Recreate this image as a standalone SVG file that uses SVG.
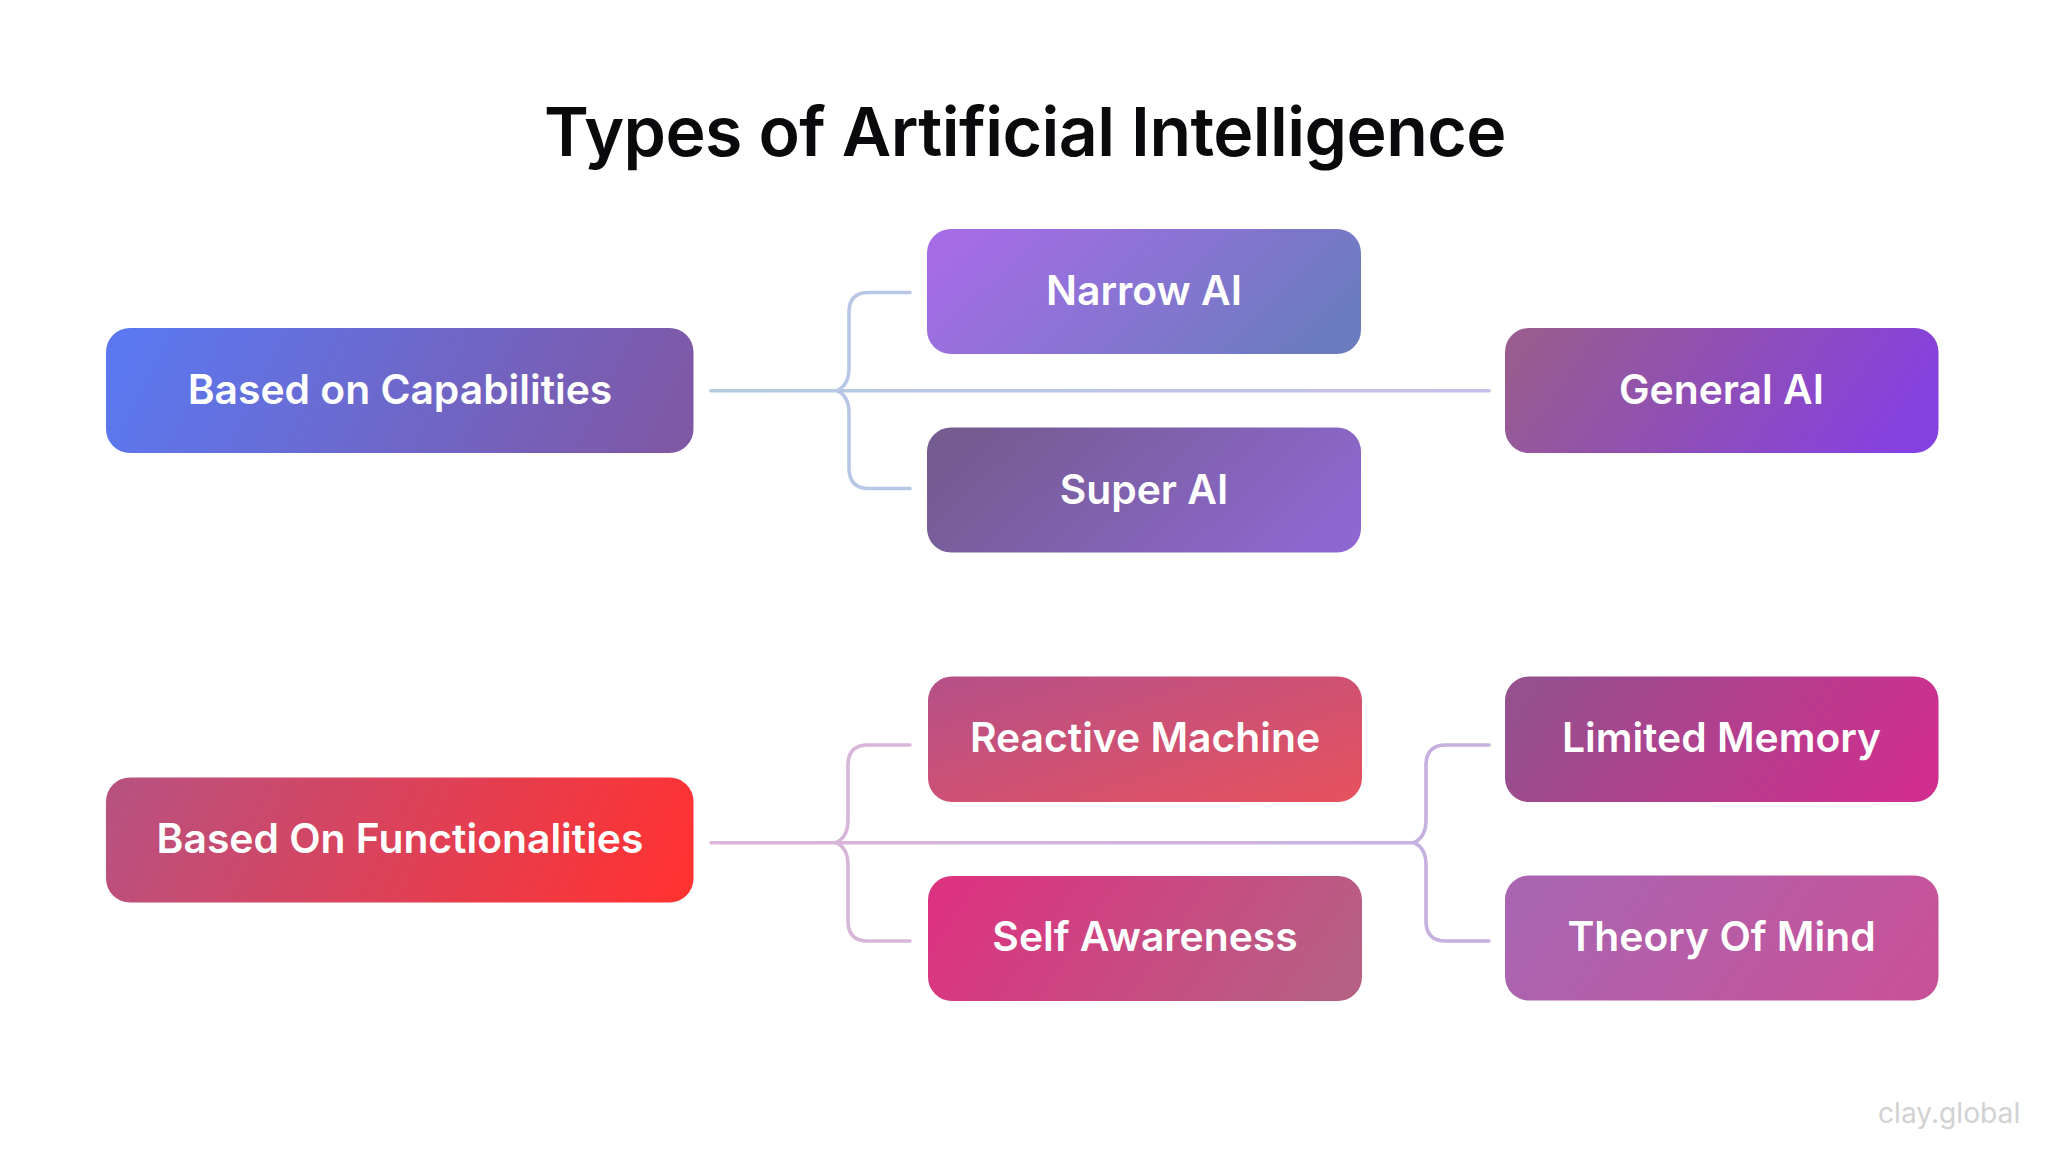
<svg xmlns="http://www.w3.org/2000/svg" width="2048" height="1151" viewBox="0 0 2048 1151">
<style>
.lbl{font-family:Inter,"Liberation Sans",sans-serif;font-weight:600;font-size:40.8px;fill:#fff;text-anchor:middle}
.c{fill:none;stroke-width:3.6;stroke-linecap:round;stroke-linejoin:round}
</style>
<defs>
<linearGradient id="g1" x1="0" y1="0.45" x2="1" y2="0.55"><stop offset="0" stop-color="#5b78f0"/><stop offset="1" stop-color="#7f58a6"/></linearGradient>
<linearGradient id="g2" x1="0" y1="0.35" x2="1" y2="0.65"><stop offset="0" stop-color="#a56ce6"/><stop offset="1" stop-color="#6a7cbe"/></linearGradient>
<linearGradient id="g3" x1="0" y1="0.35" x2="1" y2="0.65"><stop offset="0" stop-color="#745b90"/><stop offset="1" stop-color="#8e68d0"/></linearGradient>
<linearGradient id="g4" x1="0" y1="0.4" x2="1" y2="0.6"><stop offset="0" stop-color="#985c90"/><stop offset="1" stop-color="#8540e2"/></linearGradient>
<linearGradient id="g5" x1="0" y1="0.45" x2="1" y2="0.55"><stop offset="0" stop-color="#b9517f"/><stop offset="1" stop-color="#ff3232"/></linearGradient>
<linearGradient id="g6" x1="0" y1="0.05" x2="1" y2="0.95"><stop offset="0" stop-color="#b65088"/><stop offset="1" stop-color="#e6525e"/></linearGradient>
<linearGradient id="g7" x1="0" y1="0.4" x2="1" y2="0.6"><stop offset="0" stop-color="#dc3380"/><stop offset="1" stop-color="#b66084"/></linearGradient>
<linearGradient id="g8" x1="0" y1="0.4" x2="1" y2="0.6"><stop offset="0" stop-color="#95508e"/><stop offset="1" stop-color="#d02e8e"/></linearGradient>
<linearGradient id="g9" x1="0" y1="0.4" x2="1" y2="0.6"><stop offset="0" stop-color="#a965b2"/><stop offset="1" stop-color="#c85298"/></linearGradient>
<linearGradient id="ln1" gradientUnits="userSpaceOnUse" x1="710" y1="0" x2="1489" y2="0"><stop offset="0" stop-color="#b1cbe0"/><stop offset="1" stop-color="#c7bdea"/></linearGradient>
<linearGradient id="ln2" gradientUnits="userSpaceOnUse" x1="710" y1="0" x2="1416" y2="0"><stop offset="0" stop-color="#dcb5d8"/><stop offset="1" stop-color="#c9b2e0"/></linearGradient>
</defs>
<rect width="2048" height="1151" fill="#fff"/>
<text id="title" x="1025" y="156" font-family="Inter,'Liberation Sans',sans-serif" font-weight="600" font-size="68" letter-spacing="-0.56" fill="#0a0a0c" text-anchor="middle">Types of Artificial Intelligence</text>
<g id="connectors">
<path class="c" stroke="url(#ln1)" d="M711 390.700H1489"/>
<path class="c" stroke="#b9c7e6" d="M910 292.500H869Q849 292.500 849 312V368Q849 385 837 390.700Q849 396 849 413V468Q849 488.500 869 488.500H910"/>
<path class="c" stroke="url(#ln2)" d="M711 842.700H1416"/>
<path class="c" stroke="#d8b6da" d="M910 745H868Q848 745 848 765V820Q848 837 836 842.700Q848 848 848 865V921Q848 941 868 941H910"/>
<path class="c" stroke="#c6b0e0" d="M1489 745H1446Q1426 745 1426 765V820Q1426 837 1414 842.700Q1426 848 1426 865V921Q1426 941 1446 941H1489"/>
</g>
<g id="n-capabilities"><rect x="106" y="328" width="587.500" height="125" rx="24" fill="url(#g1)"/><text class="lbl" x="400" y="403.500">Based on Capabilities</text></g>
<g id="n-narrow"><rect x="927" y="229" width="434" height="125" rx="24" fill="url(#g2)"/><text class="lbl" x="1144" y="304.500">Narrow AI</text></g>
<g id="n-super"><rect x="927" y="427.500" width="434" height="125" rx="24" fill="url(#g3)"/><text class="lbl" x="1144" y="503.500">Super AI</text></g>
<g id="n-general"><rect x="1505" y="328" width="433.500" height="125" rx="24" fill="url(#g4)"/><text class="lbl" x="1721.500" y="403.500">General AI</text></g>
<g id="n-functionalities"><rect x="106" y="777.500" width="587.500" height="125" rx="24" fill="url(#g5)"/><text class="lbl" x="400" y="853">Based On Functionalities</text></g>
<g id="n-reactive"><rect x="928" y="676.500" width="434" height="125.500" rx="24" fill="url(#g6)"/><text class="lbl" x="1145" y="751.500">Reactive Machine</text></g>
<g id="n-self"><rect x="928" y="876" width="434" height="125" rx="24" fill="url(#g7)"/><text class="lbl" x="1145" y="951">Self Awareness</text></g>
<g id="n-limited"><rect x="1505" y="676.500" width="433.500" height="125.500" rx="24" fill="url(#g8)"/><text class="lbl" x="1721.500" y="751.500">Limited Memory</text></g>
<g id="n-theory"><rect x="1505" y="875.500" width="433.500" height="125" rx="24" fill="url(#g9)"/><text class="lbl" x="1721.500" y="950.500">Theory Of Mind</text></g>
<text id="wm" x="1878" y="1123" font-family="Inter,'Liberation Sans',sans-serif" font-size="28.200" fill="#d2d2d2">clay.global</text>
</svg>
